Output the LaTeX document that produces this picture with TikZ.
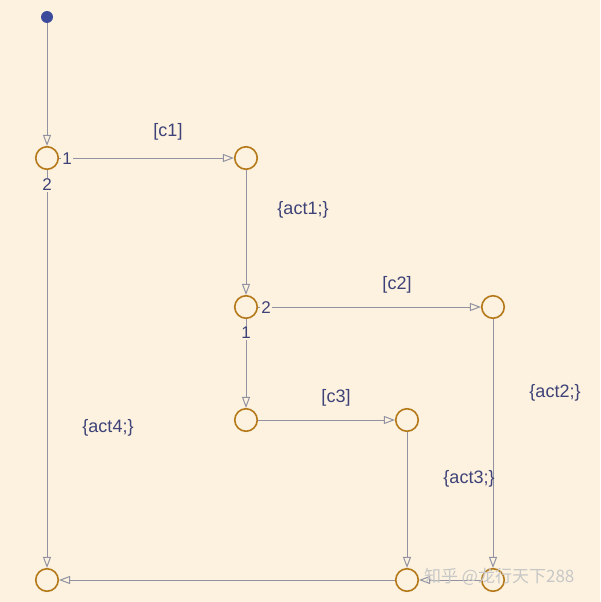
\documentclass[tikz,border=0pt]{standalone}
\usepackage{fontspec}
\setmainfont{Liberation Sans}
\newfontfamily\cjkfont{Noto Sans CJK SC}
\usetikzlibrary{arrows.meta}
\definecolor{bgc}{HTML}{FCF2DF}
\definecolor{junc}{HTML}{B5791A}
\definecolor{linec}{HTML}{9292A2}
\definecolor{txtc}{HTML}{3E4278}
\definecolor{dotc}{HTML}{3C4A9C}
\tikzset{
  junction/.style={circle, draw=junc, line width=1.6pt, minimum size=22.5pt, inner sep=0pt, fill=bgc},
  trans/.style={draw=linec, line width=1pt, -{Triangle[open, length=11pt, width=8pt, fill=bgc]}},
  lbl/.style={text=txtc, font=\fontsize{18}{20}\selectfont, inner sep=0pt},
  num/.style={text=txtc, font=\fontsize{17}{19}\selectfont, inner sep=1pt, fill=bgc}
}
\begin{document}
\begin{tikzpicture}[x=1pt, y=-1pt]
\fill[bgc] (0,0) rectangle (600,602);
\useasboundingbox (0,0) rectangle (600,602);
% default transition dot
\node[circle, fill=dotc, minimum size=12pt, inner sep=0pt] (start) at (47,17) {};
% junctions
\node[junction] (A) at (47,158) {};
\node[junction] (B) at (246,158) {};
\node[junction] (C) at (246,307) {};
\node[junction] (D) at (493,307) {};
\node[junction] (E) at (246,420) {};
\node[junction] (F) at (407,420) {};
\node[junction] (G) at (47,580) {};
\node[junction] (H) at (407,580) {};
\node[junction] (I) at (493,580) {};
% transitions
\draw[trans] (start) -- (A);
\draw[trans] (A) -- (B);
\draw[trans] (B) -- (C);
\draw[trans] (A) -- (G);
\draw[trans] (C) -- (D);
\draw[trans] (C) -- (E);
\draw[trans] (D) -- (I);
\draw[trans] (E) -- (F);
\draw[trans] (F) -- (H);
\draw[trans] (I) -- (H);
\draw[trans] (H) -- (G);
% labels
\node[lbl] (lc1) at (168,132) {[c1]};
\node[lbl] (la1) at (303,210) {\{act1;\}};
\node[lbl] (la4) at (108,428) {\{act4;\}};
\node[lbl] (lc2) at (397,285) {[c2]};
\node[lbl] (la2) at (555,393) {\{act2;\}};
\node[lbl] (lc3) at (336,398) {[c3]};
\node[lbl] (la3) at (469,479) {\{act3;\}};
% execution order numbers
\node[num] (nA1) at (67,159) {1};
\node[num] (nA2) at (47,185) {2};
\node[num] (nC2) at (266,308) {2};
\node[num] (nC1) at (246,333) {1};
% watermark
\node[text=black!22, font=\cjkfont\fontsize{17}{19}\selectfont, inner sep=0pt, anchor=west] (wm) at (424,577) {知乎 @龙行天下288};
\end{tikzpicture}
\end{document}
